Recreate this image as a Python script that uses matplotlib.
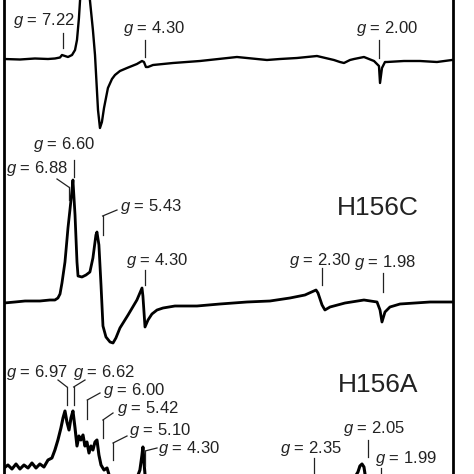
import matplotlib
matplotlib.use('Agg')
from matplotlib import pyplot as plt

plt.rcParams['font.family'] = ['Liberation Sans', 'DejaVu Sans']
plt.rcParams['mathtext.fontset'] = 'custom'
plt.rcParams['mathtext.rm'] = 'Liberation Sans'
plt.rcParams['mathtext.it'] = 'Liberation Sans:italic'

# microwave frequency (GHz) -> resonance field B(mT) = 71.4477 * nu / g
NU = 9.38

# top trace (wild type, label cropped)
wt_field = [47.9, 60.1, 71.6, 81.6, 86.9, 90.8, 92.3, 94.6, 96.9, 100.0, 102.3,
            103.8, 105.3, 107.6, 109.9, 112.2, 113.7, 116.0, 117.6, 119.9, 121.4,
            122.9, 124.5, 127.5, 130.6, 132.9, 136.7, 142.1, 149.7, 153.6, 155.1,
            156.6, 158.2, 162.0, 177.3, 198.0, 226.3, 249.3, 259.3, 272.3, 287.6,
            300.6, 305.2, 308.3, 312.9, 316.0, 323.6, 331.3, 335.1, 335.9, 337.4,
            339.7, 341.2, 354.2, 366.5, 379.5, 391.0]
wt_signal = [0, -0.5, 0.5, 0, 0.5, 1.5, 4, 3, 2, 4, 9,
             19, 41, 89, 139, 99, 59, 29, 4, -51, -69,
             -63, -49, -29, -20, -16, -12, -9, -5, -2, -3,
             -8, -8, -6, -4, -2, 2, -1, 0, 1, 3,
             -1, -3, -4, -1, 0, 2, -2, -7, -24, -9,
             -3, -3, -2, -2, -3, -1]

# H156C
c_field = [47.9, 56.3, 64.0, 75.4, 83.1, 86.9, 89.2, 90.8, 92.3, 94.6, 96.1,
           96.9, 98.4, 100.0, 100.7, 102.3, 103.8, 104.6, 107.6, 110.7, 113.7,
           116.0, 118.3, 119.1, 120.6, 122.2, 123.7, 126.0, 129.1, 131.4, 133.6,
           136.7, 142.9, 149.7, 153.6, 154.3, 155.9, 158.2, 161.2, 165.1, 169.7,
           178.8, 195.7, 213.3, 234.0, 251.6, 266.9, 278.4, 286.9, 288.4, 291.5,
           293.7, 297.6, 309.1, 323.6, 333.6, 335.9, 337.4, 339.7, 343.5, 351.2,
           374.2, 391.0]
c_signal = [-1, 0, 1, 1, 2, 2, 4, 8, 19, 40, 62,
            74, 92, 112, 122, 87, 40, 26, 25, 27, 30,
            44, 67, 70, 57, 17, -24, -35, -40, -41, -36,
            -26, -13, 2, 14, 6, -25, -18, -12, -8, -6,
            -4, -4, -2, 0, 1, 4, 7, 12, 9, -3,
            -8, -5, -1, 2, 0, -8, -20, -10, -5, -2,
            0, 0]

# H156A
a_field = [47.9, 50.9, 54.0, 57.1, 60.1, 63.2, 66.3, 69.3, 72.4, 75.4, 78.5,
           81.6, 84.6, 86.9, 89.2, 91.5, 93.1, 94.6, 96.1, 97.7, 99.2,
           100.7, 102.3, 103.8, 105.3, 106.8, 108.4, 109.9, 111.4, 113.0, 114.5,
           116.0, 117.6, 119.1, 120.6, 122.2, 124.5, 126.8, 129.1, 132.9, 138.3,
           144.4, 149.7, 152.0, 153.6, 154.3, 155.1, 156.6, 159.7, 167.4, 198.0,
           236.3, 274.6, 305.2, 316.7, 319.0, 320.5, 322.1, 323.6, 325.1, 328.2,
           335.9, 351.2, 391.0]
a_signal = [0, 3, -1, 4, -1, 3, 0, 5, 0, 4, 1,
            8, 10, 18, 28, 40, 50, 57, 46, 38, 50,
            57, 40, 22, 32, 28, 33, 22, 26, 15, 22,
            18, 26, 28, 13, 3, -2, 0, -10, -22, -27,
            -20, -10, -2, 13, 21, 6, -17, -16, -14, -12,
            -11, -10, -10, -9, -4, 2, 4, 1, -12, -20,
            -16, -12, -11]

traces = [(wt_field, wt_signal, 415, 1.7),
          (c_field, c_signal, 172, 2.0),
          (a_field, a_signal, 6, 2.2)]

# g-value markers: (g, text centre px, tick top/bottom px, elbow start px)
wt_marks = [(7.22, (44, 20), (33, 48), None),
            (4.30, (154, 29), (40, 57), None),
            (2.00, (387, 29), (40, 58), None)]
c_marks = [(6.60, (64, 145), (160, 177), None),
           (6.88, (37, 169), (187, 200), (57, 179)),
           (5.43, (151, 207), (216, 235), (117, 210)),
           (4.30, (157, 260), (270, 285), None),
           (2.30, (320, 260), (268, 285), None),
           (1.98, (385, 262), (273, 292), None)]
a_marks = [(6.97, (37, 373), (387, 405), (58, 380)),
           (6.62, (104, 373), (387, 405), (85, 380)),
           (6.00, (134, 391), (400, 419), (100, 393)),
           (5.42, (148, 409), (420, 438), (113, 413)),
           (5.10, (160, 431), (443, 460), (127, 436)),
           (4.30, (189, 448), (451, 466), (157, 448)),
           (2.35, (311, 449), (458, 480), None),
           (2.05, (374, 428), (440, 457), None),
           (1.99, (406, 458), (468, 480), None)]

names = [('H156C', (378, 208)), ('H156A', (378, 385))]

W = 474
B_LEFT, B_RIGHT = 47.9, 391.8

fig = plt.figure(figsize=(4.74, 4.74), dpi=100)
ax = fig.add_axes([4 / W, 0, 449 / W, 1])
ax.set_xlim(B_LEFT, B_RIGHT)
ax.set_ylim(0, W)
ax.spines['top'].set_visible(False)
ax.spines['bottom'].set_visible(False)
ax.spines['left'].set_linewidth(2.0)
ax.spines['right'].set_linewidth(2.0)
ax.set_xticks([])
ax.set_yticks([])

for field, sig, off, lw in traces:
    ax.plot(field, [off + s for s in sig], color='black', lw=lw,
            solid_joinstyle='round')


def px_to_field(px):
    return B_LEFT + (px - 4) * (B_RIGHT - B_LEFT) / 449


for g, (tx, ty), (y0, y1), elbow in wt_marks + c_marks + a_marks:
    xg = 71.4477 * NU / g
    ax.plot([xg, xg], [W - y0, W - y1], color='#222222', lw=0.9,
            clip_on=False)
    if elbow is not None:
        ax.plot([px_to_field(elbow[0]), xg], [W - elbow[1], W - y0],
                color='#222222', lw=0.9)
    fig.text(tx / W, 1 - ty / W, '$g$ = %.2f' % g, ha='center',
             va='center', fontsize=12, color='#222222')

for name, (tx, ty) in names:
    fig.text(tx / W, 1 - ty / W, name, ha='center', va='center',
             fontsize=19, color='#222222')

fig.savefig('out.png', dpi=100)
